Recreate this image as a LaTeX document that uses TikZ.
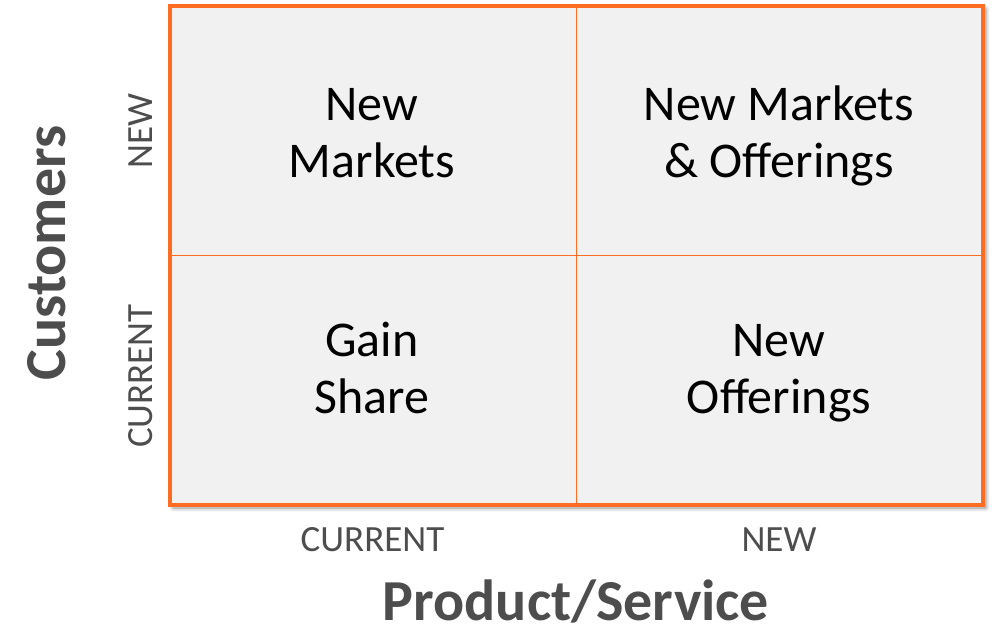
\documentclass[tikz,border=0pt]{standalone}
\usepackage{fontspec}
\setmainfont{Carlito}
\usetikzlibrary{shadows.blur}
\definecolor{gridorange}{HTML}{FF6C22}
\definecolor{cellgray}{HTML}{F1F1F1}
\definecolor{labelgray}{HTML}{4D4D4D}
\tikzset{
  quad/.style={align=center, anchor=base,
    font=\fontsize{50}{57}\selectfont},
  level/.style={text=labelgray, anchor=base,
    font=\fontsize{37}{44}\selectfont},
  axis/.style={text=labelgray, anchor=base,
    font=\fontsize{58}{66}\selectfont\bfseries},
}
\begin{document}
\begin{tikzpicture}[x=1pt, y=-1pt]
  \useasboundingbox (0,0) rectangle (998,642);
  \node[draw=gridorange, line width=4pt, fill=cellgray, outer sep=0pt,
    minimum width=813pt, minimum height=499pt, inner sep=0pt,
    blur shadow={shadow xshift=3pt, shadow yshift=-3pt,
      shadow blur radius=4pt, shadow opacity=45}]
    (grid) at (576.5,255.5) {};
  \draw[gridorange, line width=1.6pt] (grid.north) -- (grid.south);
  \draw[gridorange, line width=1.6pt] (grid.west) -- (grid.east);
  % quadrants (base = last line)
  \node[quad] (newmkt) at (372,177) {New\\Markets};
  \node[quad] (newboth) at (779,177) {New Markets\\\& Offerings};
  \node[quad] (gain) at (372,413) {Gain\\Share};
  \node[quad] (newoff) at (779,413) {New\\Offerings};
  % levels
  \node[level] (xcur) at (372.5,551) {CURRENT};
  \node[level] (xnew) at (779,551) {NEW};
  \node[level, rotate=90] (ycur) at (152,376) {CURRENT};
  \node[level, rotate=90] (ynew) at (152,131) {NEW};
  % axis titles
  \node[axis] (xtitle) at (576,620) {Product/Service};
  \node[axis, rotate=90] (ytitle) at (65,253) {Customers};
\end{tikzpicture}
\end{document}
